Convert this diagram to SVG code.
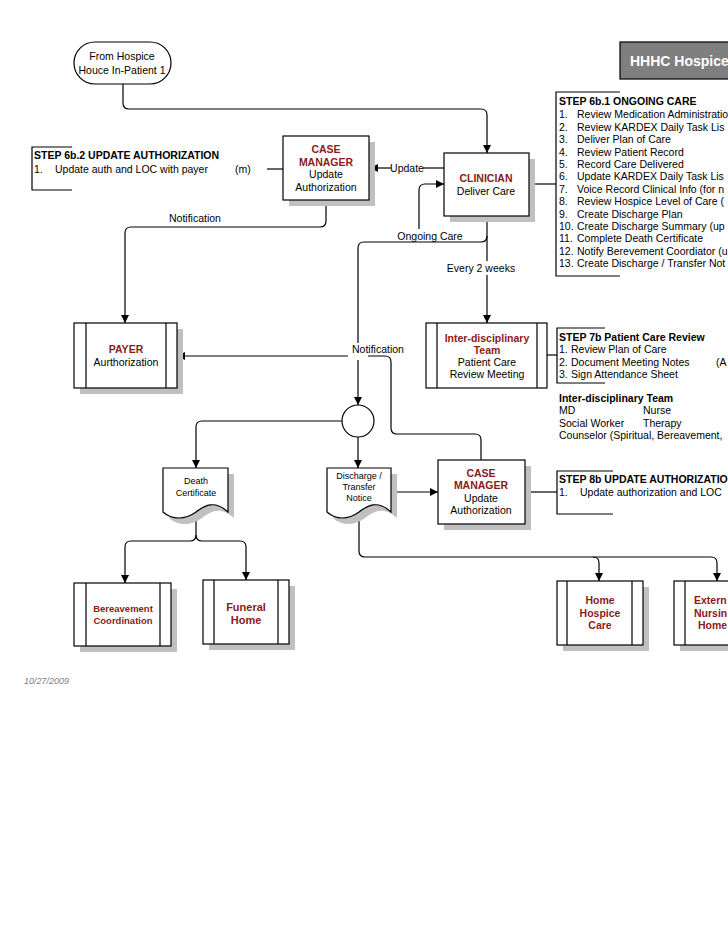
<svg xmlns="http://www.w3.org/2000/svg" width="728" height="943" viewBox="0 0 728 943">
<defs>
<marker id="ah" markerWidth="10" markerHeight="10" refX="8" refY="4.5" orient="auto" markerUnits="userSpaceOnUse">
<path d="M0,0.5 L8,4.5 L0,8.5 Z" fill="#000"/>
</marker>
<style>
text{font-family:"Liberation Sans",Arial,sans-serif;font-size:10.5px;fill:#000}
.c{text-anchor:middle}
.b{font-weight:bold}
.r{fill:#8B1A1A;font-weight:bold}
.box{fill:#fff;stroke:#000;stroke-width:1.2}
.sh{fill:#c0c0c0;stroke:none}
.ln{fill:none;stroke:#000;stroke-width:1.2}
.con{fill:none;stroke:#000;stroke-width:1.2}
.arr{marker-end:url(#ah)}
.head{fill:#000;stroke:none}
.sm{font-size:9px}
</style>
</defs>
<rect width="728" height="943" fill="#fff"/>

<g id="connectors">
<path class="con arr" d="M123,84 V103 Q123,109 129,109 H481 Q487,109 487,115 V153"/>
<path class="con" d="M444,168 H423"/>
<path class="con" d="M391,168 H376"/>
<path class="head" d="M370,168 L378,164 L378,172 Z"/>
<path class="con" d="M283,169 H267"/>
<path class="con arr" d="M326,200 V221 Q326,227 320,227 H131 Q125,227 125,233 V323"/>
<path class="con" d="M529,184 H556"/>
<path class="con" d="M487,216 V261"/>
<path class="con arr" d="M487,275 V323"/>
<path class="con" d="M487,236 Q487,242 481,242 H364 Q358,242 358,248 V343"/>
<path class="con arr" d="M358,360 V405"/>
<path class="con arr" d="M419,229 V190 Q419,184 425,184 H444"/>
<path class="con" d="M348,356 H183"/>
<path class="head" d="M177,356 L185,352 L185,360 Z"/>
<path class="con" d="M368,356 H385 Q391,356 391,362 V428 Q391,434 397,434 H475 Q481,434 481,440 V460"/>
<path class="con arr" d="M342,421 H202 Q196,421 196,427 V468"/>
<path class="con arr" d="M358,437 V468"/>
<path class="con arr" d="M391,492 H438"/>
<path class="con" d="M525,492 H557"/>
<path class="con" d="M547,355 H557"/>
<path class="con arr" d="M196,516 V535 Q196,541 190,541 H131 Q125,541 125,547 V583"/>
<path class="con arr" d="M196,535 Q196,541 202,541 H240 Q246,541 246,547 V580"/>
<path class="con arr" d="M359,516 V551 Q359,557 365,557 H593 Q599,557 599,563 V581"/>
<path class="con arr" d="M593,557 H711 Q717,557 717,563 V581"/>
<text x="407" y="172" class="c">Update</text>
<text x="195" y="222" class="c">Notification</text>
<text x="430" y="240" class="c">Ongoing Care</text>
<text x="481" y="272" class="c">Every 2 weeks</text>
<text x="378" y="353" class="c">Notification</text>
</g>

<g id="start">
<rect x="74" y="42" width="97" height="42" rx="21" class="box"/>
<text x="122" y="60" class="c">From Hospice</text>
<text x="122" y="74" class="c">Houce In-Patient 1</text>
</g>

<g id="header">
<rect x="620" y="42" width="120" height="37" fill="#7f7f7f" stroke="#000" stroke-width="1.2"/>
<text x="630" y="66" class="b" style="font-size:14px;fill:#fff">HHHC Hospice</text>
</g>

<g id="step6b1">
<path class="ln" d="M620,92 H556 V276 H620"/>
<text x="559" y="105" class="b">STEP 6b.1 ONGOING CARE</text>
<text x="559" y="118.4">1.</text><text x="577" y="118.4">Review Medication Administratio</text>
<text x="559" y="130.8">2.</text><text x="577" y="130.8">Review KARDEX Daily Task Lis</text>
<text x="559" y="143.2">3.</text><text x="577" y="143.2">Deliver Plan of Care</text>
<text x="559" y="155.6">4.</text><text x="577" y="155.6">Review Patient Record</text>
<text x="559" y="168">5.</text><text x="577" y="168">Record Care Delivered</text>
<text x="559" y="180.4">6.</text><text x="577" y="180.4">Update KARDEX Daily Task Lis</text>
<text x="559" y="192.8">7.</text><text x="577" y="192.8">Voice Record Clinical Info (for n</text>
<text x="559" y="205.2">8.</text><text x="577" y="205.2">Review Hospice Level of Care (</text>
<text x="559" y="217.6">9.</text><text x="577" y="217.6">Create Discharge Plan</text>
<text x="559" y="230">10.</text><text x="577" y="230">Create Discharge Summary (up</text>
<text x="559" y="242.4">11.</text><text x="577" y="242.4">Complete Death Certificate</text>
<text x="559" y="254.8">12.</text><text x="577" y="254.8">Notify Berevement Coordiator (u</text>
<text x="559" y="267.2">13.</text><text x="577" y="267.2">Create Discharge / Transfer Not</text>
</g>

<g id="step6b2">
<path class="ln" d="M72,147 H32 V190 H72"/>
<text x="34" y="159" class="b">STEP 6b.2  UPDATE AUTHORIZATION</text>
<text x="34" y="173">1.</text><text x="55" y="173">Update auth and LOC with payer</text>
<text x="235" y="173">(m)</text>
</g>

<g id="case-manager-1">
<rect x="289" y="142" width="86" height="64" class="sh"/>
<rect x="283" y="136" width="86" height="64" class="box"/>
<text x="326" y="153" class="c r">CASE</text>
<text x="326" y="166" class="c r">MANAGER</text>
<text x="326" y="178" class="c">Update</text>
<text x="326" y="191" class="c">Authorization</text>
</g>

<g id="clinician">
<rect x="450" y="159" width="85" height="63" class="sh"/>
<rect x="444" y="153" width="85" height="63" class="box"/>
<text x="486" y="182" class="c r">CLINICIAN</text>
<text x="486" y="195" class="c">Deliver Care</text>
</g>

<g id="payer">
<rect x="80" y="329" width="103" height="65" class="sh"/>
<rect x="74" y="323" width="103" height="65" class="box"/>
<path class="ln" d="M86,323 V388 M166,323 V388"/>
<text x="126" y="353" class="c r">PAYER</text>
<text x="126" y="366" class="c">Aurthorization</text>
</g>

<g id="idt">
<rect x="426" y="323" width="121" height="65" class="box"/>
<path class="ln" d="M437,323 V388 M537,323 V388"/>
<text x="487" y="342" class="c r">Inter-disciplinary</text>
<text x="487" y="354" class="c r">Team</text>
<text x="487" y="366" class="c">Patient Care</text>
<text x="487" y="378" class="c">Review Meeting</text>
</g>

<g id="step7b">
<path class="ln" d="M605,328 H557 V383 H605"/>
<text x="559" y="341" class="b">STEP 7b Patient Care Review</text>
<text x="559" y="353">1.</text><text x="571" y="353">Review Plan of Care</text>
<text x="559" y="366">2.</text><text x="571" y="366">Document Meeting Notes</text>
<text x="716" y="366">(A</text>
<text x="559" y="378">3.</text><text x="571" y="378">Sign Attendance Sheet</text>
<text x="559" y="402" class="b">Inter-disciplinary Team</text>
<text x="559" y="414">MD</text><text x="643" y="414">Nurse</text>
<text x="559" y="427">Social Worker</text><text x="643" y="427">Therapy</text>
<text x="559" y="439">Counselor (Spiritual, Bereavement,</text>
</g>

<g id="junction">
<circle cx="358" cy="421" r="16" class="box"/>
</g>

<g id="death-certificate">
<path class="sh" d="M169,474 H234 V518 C221,506 211,511 202,518 C191,526 178,526 169,518 Z"/>
<path class="box" d="M163,468 H228 V512 C215,500 205,505 196,512 C185,520 172,520 163,512 Z"/>
<text x="196" y="484" class="c sm">Death</text>
<text x="196" y="496" class="c sm">Certificate</text>
</g>

<g id="discharge-notice">
<path class="sh" d="M333,474 H397 V518 C384,506 374,511 365,518 C354,526 342,526 333,518 Z"/>
<path class="box" d="M327,468 H391 V512 C378,500 368,505 359,512 C348,520 336,520 327,512 Z"/>
<text x="359" y="479" class="c sm">Discharge /</text>
<text x="359" y="490" class="c sm">Transfer</text>
<text x="359" y="501" class="c sm">Notice</text>
</g>

<g id="case-manager-2">
<rect x="444" y="466" width="87" height="64" class="sh"/>
<rect x="438" y="460" width="87" height="64" class="box"/>
<text x="481" y="477" class="c r">CASE</text>
<text x="481" y="489" class="c r">MANAGER</text>
<text x="481" y="502" class="c">Update</text>
<text x="481" y="514" class="c">Authorization</text>
</g>

<g id="step8b">
<path class="ln" d="M613,471 H557 V514 H613"/>
<text x="559" y="483" class="b">STEP 8b UPDATE AUTHORIZATIO</text>
<text x="559" y="496">1.</text><text x="580" y="496">Update authorization and LOC</text>
</g>

<g id="bereavement">
<rect x="80" y="589" width="97" height="63" class="sh"/>
<rect x="74" y="583" width="97" height="63" class="box"/>
<path class="ln" d="M86,583 V646 M160,583 V646"/>
<text x="123" y="612" class="c r" style="font-size:9.5px">Bereavement</text>
<text x="123" y="624" class="c r" style="font-size:9.5px">Coordination</text>
</g>

<g id="funeral-home">
<rect x="209" y="586" width="86" height="64" class="sh"/>
<rect x="203" y="580" width="86" height="64" class="box"/>
<path class="ln" d="M214,580 V644 M278,580 V644"/>
<text x="246" y="611" class="c r" style="font-size:11px">Funeral</text>
<text x="246" y="624" class="c r" style="font-size:11px">Home</text>
</g>

<g id="home-hospice">
<rect x="563" y="587" width="86" height="64" class="sh"/>
<rect x="557" y="581" width="86" height="64" class="box"/>
<path class="ln" d="M567,581 V645 M632,581 V645"/>
<text x="600" y="604" class="c r">Home</text>
<text x="600" y="617" class="c r">Hospice</text>
<text x="600" y="629" class="c r">Care</text>
</g>

<g id="external-nursing-home">
<rect x="680" y="587" width="86" height="64" class="sh"/>
<rect x="674" y="581" width="86" height="64" class="box"/>
<path class="ln" d="M685,581 V645"/>
<text x="694" y="604" class="r">Extern</text>
<text x="694" y="617" class="r">Nursin</text>
<text x="698" y="629" class="r">Home</text>
</g>

<text x="24" y="684" style="font-size:9px;font-style:italic;fill:#808080">10/27/2009</text>
</svg>
